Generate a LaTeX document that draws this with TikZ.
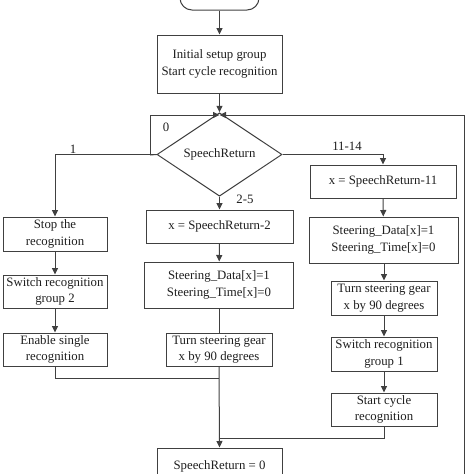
\documentclass[tikz,border=0pt]{standalone}
\usepackage{fontspec}
\setmainfont{Liberation Serif}
\usetikzlibrary{shapes.geometric,arrows.meta}
\definecolor{ln}{HTML}{404040}
\definecolor{tx}{HTML}{1E1E1E}
\begin{document}
\begin{tikzpicture}[x=1pt,y=-1pt,
  font=\fontsize{12.8}{16.5}\selectfont, text=tx,
  box/.style={draw=ln, line width=1pt, rectangle, inner sep=1pt, align=center},
  arr/.style={draw=ln, line width=1pt, -{Triangle[length=6.5pt,width=6pt]}},
  ln/.style={draw=ln, line width=1pt},
  lab/.style={inner sep=0pt}]
\useasboundingbox (0,0) rectangle (474,474);
\clip (0,0) rectangle (474,474);
% nodes
\node[box, rounded corners=12pt, minimum width=79pt, minimum height=30pt] (term) at (219.5,-5) {};
\node[box, minimum width=125pt, minimum height=58pt] (init) at (219.5,64) {Initial setup group\\Start cycle recognition};
\node[draw=ln, line width=1pt, diamond, inner sep=0pt, minimum width=125pt, minimum height=57pt] (dia) at (219.5,154.5) {SpeechReturn};
\node[box, minimum width=104pt, minimum height=34pt] (stop) at (55,234) {Stop the\\recognition};
\node[box, minimum width=104pt, minimum height=33pt] (sw2) at (55,291.5) {Switch recognition\\group 2};
\node[box, minimum width=104pt, minimum height=33pt] (en) at (55,349.5) {Enable single\\recognition};
\node[box, minimum width=147pt, minimum height=33pt] (x2) at (219.5,226.5) {x = SpeechReturn-2};
\node[box, minimum width=149pt, minimum height=46pt] (sd2) at (219,285) {Steering\_Data[x]=1\\Steering\_Time[x]=0};
\node[box, minimum width=106pt, minimum height=33pt] (ts2) at (219,349.5) {Turn steering gear\\x by 90 degrees};
\node[box, minimum width=146pt, minimum height=33pt] (x11) at (383,181.5) {x = SpeechReturn-11};
\node[box, minimum width=149pt, minimum height=46pt] (sd11) at (383.5,240) {Steering\_Data[x]=1\\Steering\_Time[x]=0};
\node[box, minimum width=106pt, minimum height=34pt] (ts11) at (384,298) {Turn steering gear\\x by 90 degrees};
\node[box, minimum width=106pt, minimum height=34pt] (sw1) at (384,354) {Switch recognition\\group 1};
\node[box, minimum width=106pt, minimum height=33pt] (sc) at (384,409.5) {Start cycle\\recognition};
\node[box, minimum width=125pt, minimum height=36pt] (sr0) at (219.5,466) {SpeechReturn = 0};
% coordinates
\coordinate (J) at (219.5,115);
\coordinate (LL) at (150,155);
\coordinate (RB) at (464,490);
\coordinate (mL) at (219,378);
\coordinate (mR) at (219,438);
% labels
\node[lab] (l0) at (166,127) {0};
\node[lab] (l1) at (73,149) {1};
\node[lab] (l1114) at (347,146) {11-14};
\node[lab] (l25) at (245,199) {2-5};
% connectors
\draw[arr] (term.south) -- (init.north);
\draw[arr] (init.south) -- (dia.north);
\draw[ln] (dia.west) -- (LL);
\draw[arr] (LL) |- (J);
\draw[arr] (RB) |- (J);
\draw[arr] (dia.west) -| (stop.north);
\draw[arr] (dia.east) -| (x11.north);
\draw[arr] (dia.south) -- (x2.north);
\draw[arr] (stop) -- (sw2);
\draw[arr] (sw2) -- (en);
\draw[arr] (x2) -- (sd2);
\draw[ln] (sd2) -- (ts2);
\draw[arr] (ts2.south) -- (sr0.north);
\draw[ln] (en.south) |- (mL);
\draw[arr] (x11) -- (sd11);
\draw[arr] (sd11.south -| ts11.north) -- (ts11.north);
\draw[arr] (ts11) -- (sw1);
\draw[arr] (sw1) -- (sc);
\draw[ln] (sc.south) |- (mR);
\end{tikzpicture}
\end{document}
